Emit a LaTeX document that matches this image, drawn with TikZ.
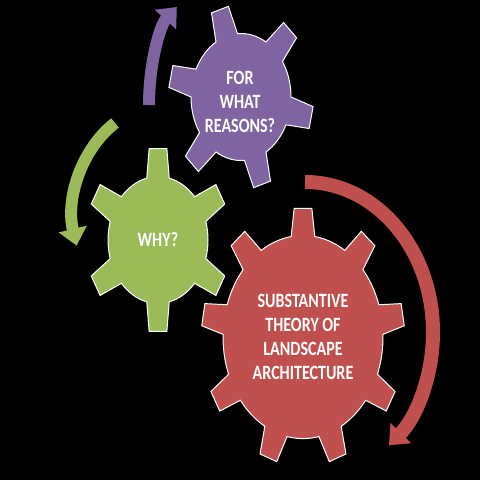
\documentclass[tikz,border=0pt]{standalone}
\usepackage{fontspec}
\setmainfont{Carlito}
\usetikzlibrary{arrows.meta}

\definecolor{cogpurple}{HTML}{8064A2}
\definecolor{coggreen}{HTML}{9BBB59}
\definecolor{cogred}{HTML}{C0504D}

% #1 teeth, #2 first tooth, #3 tip radius, #4 half width at root, #5 half width at tip
\newcommand{\cogpath}[5]{%
  (#2-#4:1) \foreach \k [evaluate=\k as \ang using #2+(\k-1)*360/#1] in {1,...,#1} {
    -- (\ang-#5:#3) -- (\ang+#5:#3) -- (\ang+#4:1)
    arc[start angle=\ang+#4, end angle=\ang+360/#1-#4, radius=1]
  } -- cycle}

\tikzset{
  cog/.style={draw=white, line width=1pt, line join=miter},
  cogtext/.style={text=white, font=\bfseries\fontsize{16}{19}\selectfont, align=center, yscale=1.27, transform shape},
  turn/.style={line width=12pt, -{Triangle[length=17pt, width=28pt]}}
}

\begin{document}
\begin{tikzpicture}[x=1pt, y=-1pt]
	\path[use as bounding box, fill=black] (0,0) rectangle (480,480);

	% turning arrows
	\coordinate (purpletail) at (149,105);
	\coordinate (greentail) at (115,123);
	\coordinate (redtail) at (305,182);
	\draw[turn, cogpurple] (purpletail) arc[start angle=180, end angle=243, x radius=51, y radius=110];
	\draw[turn, coggreen] (greentail) arc[start angle=-123, end angle=-196, x radius=92, y radius=110];
	\draw[turn, cogred, line width=14pt] (redtail) arc[start angle=-90, end angle=49, x radius=128, y radius=150];

	% gears
	\begin{scope}[shift={(241,97)}, yscale=1.27, rotate=17, scale=50]
		\draw[cog, fill=cogpurple] \cogpath{6}{-90}{1.45}{13}{7};
	\end{scope}
	\begin{scope}[shift={(158,240)}, yscale=1.27, scale=50]
		\draw[cog, fill=coggreen] \cogpath{6}{-90}{1.45}{13}{7};
	\end{scope}
	\begin{scope}[shift={(303,337)}, yscale=1.27, scale=80]
		\draw[cog, fill=cogred] \cogpath{9}{-90}{1.27}{8.5}{5}; 
	\end{scope}

	\node[cogtext] (reasons) at (240,102) {FOR\\WHAT\\REASONS?};
	\node[cogtext] (why) at (158,240) {WHY?};
	\node[cogtext] (theory) at (303,337) {SUBSTANTIVE\\THEORY OF\\LANDSCAPE\\ARCHITECTURE};

\end{tikzpicture}
\end{document}
